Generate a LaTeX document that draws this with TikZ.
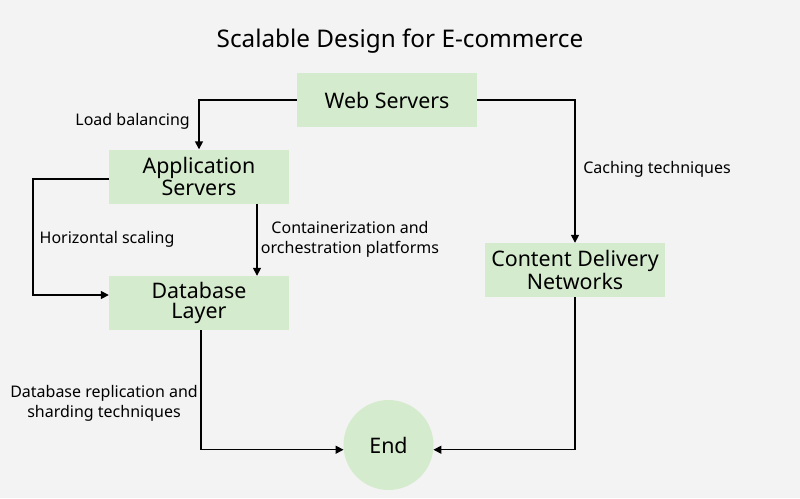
\documentclass[tikz,border=0pt]{standalone}
\usepackage{fontspec}
\setmainfont{Noto Sans}
\usetikzlibrary{arrows.meta}
\definecolor{bg}{RGB}{243,243,243}
\definecolor{boxg}{RGB}{213,235,205}
\begin{document}
\begin{tikzpicture}[x=1pt,y=-1pt,
  box/.style={fill=boxg, draw=none, minimum width=180pt, minimum height=54pt, inner sep=0pt, align=center, font=\fontsize{21.4}{20.5}\selectfont},
  lbl/.style={font=\fontsize{16}{19.5}\selectfont, align=center, inner sep=0pt},
  conn/.style={line width=1.5pt, -{Triangle[length=8pt,width=8pt]}}]
\fill[bg] (0,0) rectangle (800,498);
\useasboundingbox (0,0) rectangle (800,498);
\node[font=\fontsize{24.3}{26}\selectfont] (title) at (400,41) {Scalable Design for E-commerce};
\node[box] (web) at (387,100) {Web Servers};
\node[box] (app) at (199,176.5) {Application\\Servers};
\node[box] (db) at (199,303) {Database\\Layer};
\node[box] (cdn) at (575,270) {Content Delivery\\Networks};
\node[circle, fill=boxg, minimum size=90pt, inner sep=0pt, font=\fontsize{21.4}{20.5}\selectfont] (end) at (388.5,445) {End};
\draw[conn] (web.west) -| (app.north);
\draw[conn] (web.east) -| (cdn.north);
\draw[conn] ([xshift=58pt]app.south) -- ([xshift=58pt]db.north);
\coordinate (hl) at (33,179);
\draw[conn] ([yshift=-2.5pt]app.west) -- (hl) |- ([yshift=8pt]db.west);
\draw[conn] ([xshift=2pt]db.south) |- (end.186);
\draw[conn] (cdn.south) |- (end.354);
\node[lbl, anchor=east] (l1) at (190,121.5) {Load balancing};
\node[lbl] (l2) at (350,239.5) {Containerization and\\orchestration platforms};
\node[lbl] (l3) at (107,239.5) {Horizontal scaling};
\node[lbl] (l4) at (657,169.5) {Caching techniques};
\node[lbl] (l5) at (104,403.5) {Database replication and\\sharding techniques};
\end{tikzpicture}
\end{document}
